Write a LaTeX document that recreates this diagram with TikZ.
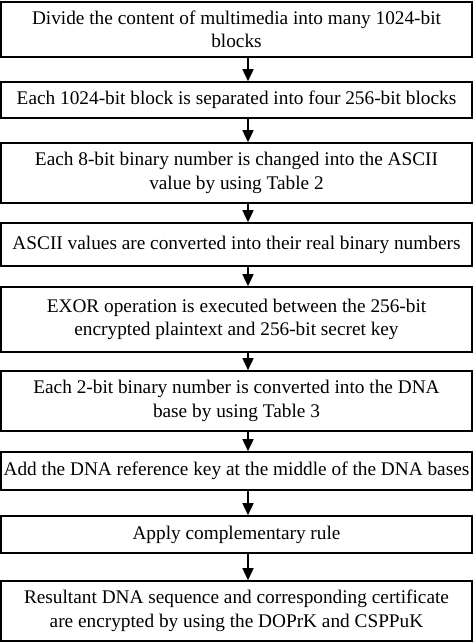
\documentclass[tikz,border=0pt]{standalone}
\usepackage{fontspec}
\setmainfont{Liberation Serif}
\usetikzlibrary{arrows.meta, positioning}

\begin{document}
\begin{tikzpicture}[x=1pt, y=-1pt, font=\fontsize{19.3}{23.5}\selectfont,
  stepbox/.style={draw, line width=1.6pt, minimum width=471pt,
    align=center, inner sep=0pt},
  flow/.style={-{Triangle[length=12pt, width=11pt]}, line width=1.6pt}]
        \useasboundingbox (0,0) rectangle (474,643);
        % Pasos
        \node[stepbox, minimum height=55pt] (divide) at (236.5,29.5)
              {Divide the content of multimedia into many 1024-bit\\blocks};
        \node[stepbox, minimum height=36pt] (split) at (236.5,100)
              {Each 1024-bit block is separated into four 256-bit blocks};
        \node[stepbox, minimum height=60pt] (ascii) at (236.5,173)
              {Each 8-bit binary number is changed into the ASCII\\value by using Table 2};
        \node[stepbox, minimum height=43pt] (binary) at (236.5,244.5)
              {ASCII values are converted into their real binary numbers};
        \node[stepbox, minimum height=65pt] (exor) at (236.5,319.5)
              {EXOR operation is executed between the 256-bit\\encrypted plaintext and 256-bit secret key};
        \node[stepbox, minimum height=60pt] (dnabase) at (236.5,401)
              {Each 2-bit binary number is converted into the DNA\\base by using Table 3};
        \node[stepbox, minimum height=38pt] (refkey) at (236.5,471)
              {Add the DNA reference key at the middle of the DNA bases};
        \node[stepbox, minimum height=37pt] (complement) at (236.5,534.5)
              {Apply complementary rule};
        \node[stepbox, minimum height=60pt] (result) at (236.5,611)
              {Resultant DNA sequence and corresponding certificate\\are encrypted by using the DOPrK and CSPPuK};
        % Flechas
        \coordinate (axis) at (248,0);
        \foreach \a/\b in {divide/split, split/ascii, ascii/binary, binary/exor,
           exor/dnabase, dnabase/refkey, refkey/complement, complement/result}
        {
          \draw[flow] (\a.south -| axis) -- (\b.north -| axis);
        }
      \end{tikzpicture}
\end{document}
